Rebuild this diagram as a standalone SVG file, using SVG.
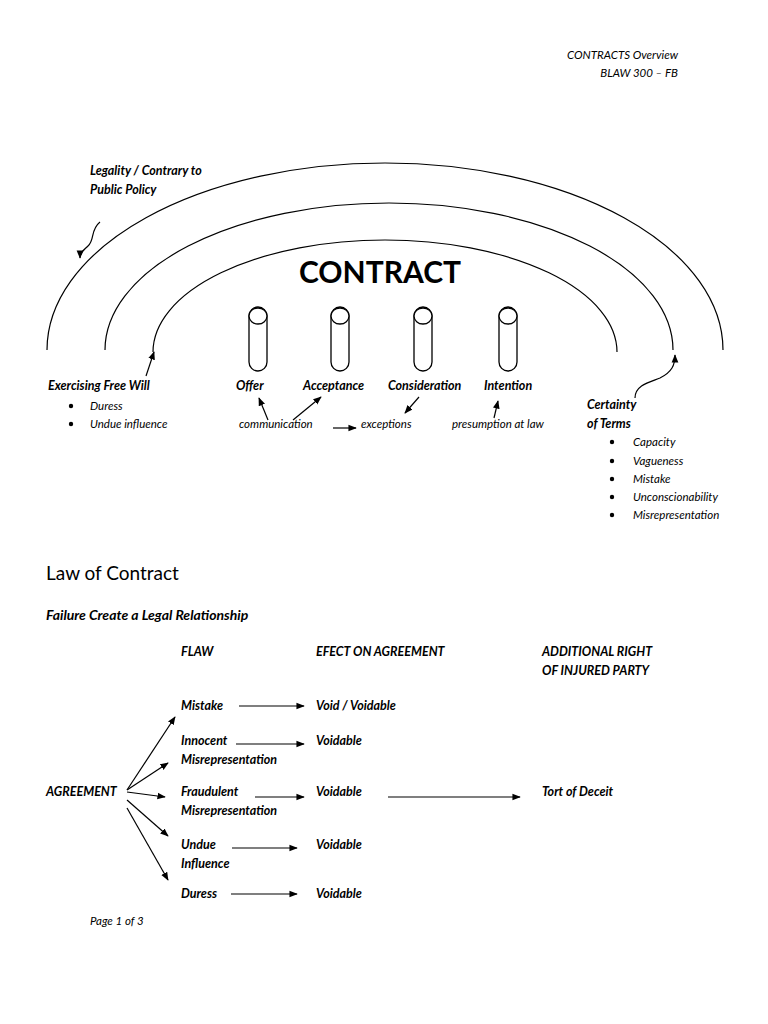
<svg xmlns="http://www.w3.org/2000/svg" width="768" height="1024" viewBox="0 0 768 1024">
<style>
text{font-family:Lato,"Open Sans","Liberation Sans",sans-serif;font-size:12.5px;fill:#000}
.i{font-style:italic}
.b{font-weight:bold;font-style:italic}
.s{font-size:11.5px;font-style:italic}
.ln{fill:none;stroke:#000;stroke-width:1.2}
.cyl{fill:#fff;stroke:#000;stroke-width:1.3}
</style>
<defs><marker id="a" viewBox="0 0 10 10" refX="9" refY="5" markerWidth="7" markerHeight="7" orient="auto"><path d="M0,1 L10,5 L0,9z" fill="#000"/></marker></defs>
<rect width="768" height="1024" fill="#fff"/>
<g id="header"><text x="678" y="59" class="s" text-anchor="end">CONTRACTS Overview</text><text x="678" y="77" class="s" text-anchor="end">BLAW 300 – FB</text></g>
<g id="arcs"><path class="ln" d="M47,350 A338,187 0 0 1 723,350"/><path class="ln" d="M105,350 A284,147 0 0 1 673,350"/><path class="ln" d="M153,352 A232,112 0 0 1 617,352"/></g>
<g id="title"><text x="380" y="283" text-anchor="middle" style="font-size:30px;font-weight:bold;font-style:normal">CONTRACT</text></g>
<g id="pillars">
<g id="p1"><rect class="cyl" x="249" y="307" width="18" height="64" rx="9"/><ellipse class="cyl" cx="258" cy="316" rx="9" ry="8"/></g>
<g id="p2"><rect class="cyl" x="331" y="307" width="18" height="64" rx="9"/><ellipse class="cyl" cx="340" cy="316" rx="9" ry="8"/></g>
<g id="p3"><rect class="cyl" x="414" y="307" width="18" height="64" rx="9"/><ellipse class="cyl" cx="423" cy="316" rx="9" ry="8"/></g>
<g id="p4"><rect class="cyl" x="499" y="307" width="18" height="64" rx="9"/><ellipse class="cyl" cx="508" cy="316" rx="9" ry="8"/></g>
</g>
<g id="labels">
<text x="90" y="175" class="b">Legality / Contrary to</text><text x="90" y="194" class="b">Public Policy</text>
<text x="48" y="390" class="b">Exercising Free Will</text>
<text x="90" y="410" class="s">Duress</text><text x="90" y="428" class="s">Undue influence</text>
<circle cx="71" cy="406" r="2.2"/><circle cx="71" cy="424" r="2.2"/>
<text x="236" y="390" class="b">Offer</text>
<text x="303" y="390" class="b">Acceptance</text>
<text x="388" y="390" class="b">Consideration</text>
<text x="484" y="390" class="b">Intention</text>
<text x="239" y="428" class="s">communication</text>
<text x="361" y="428" class="s">exceptions</text>
<text x="452" y="428" class="s">presumption at law</text>
<text x="587" y="409" class="b">Certainty</text><text x="587" y="428" class="b">of Terms</text>
<g class="s">
<text x="633" y="446" class="s">Capacity</text><text x="633" y="465" class="s">Vagueness</text><text x="633" y="483" class="s">Mistake</text><text x="633" y="501" class="s">Unconscionability</text><text x="633" y="519" class="s">Misrepresentation</text></g>
<circle cx="612" cy="442" r="2.2"/><circle cx="612" cy="461" r="2.2"/><circle cx="612" cy="479" r="2.2"/><circle cx="612" cy="497" r="2.2"/><circle cx="612" cy="515" r="2.2"/>
</g>
<g id="law">
<text x="46" y="580" style="font-size:19px">Law of Contract</text>
<text x="46" y="620" class="b" style="font-size:14px">Failure Create a Legal Relationship</text>
<text x="181" y="656" class="b">FLAW</text>
<text x="316" y="656" class="b">EFECT ON AGREEMENT</text>
<text x="542" y="656" class="b">ADDITIONAL RIGHT</text><text x="542" y="675" class="b">OF INJURED PARTY</text>
<text x="46" y="796" class="b">AGREEMENT</text>
<text x="181" y="710" class="b">Mistake</text>
<text x="181" y="745" class="b">Innocent</text><text x="181" y="764" class="b">Misrepresentation</text>
<text x="181" y="796" class="b">Fraudulent</text><text x="181" y="815" class="b">Misrepresentation</text>
<text x="181" y="849" class="b">Undue</text><text x="181" y="868" class="b">Influence</text>
<text x="181" y="898" class="b">Duress</text>
<text x="316" y="710" class="b">Void / Voidable</text>
<text x="316" y="745" class="b">Voidable</text>
<text x="316" y="796" class="b">Voidable</text>
<text x="316" y="849" class="b">Voidable</text>
<text x="316" y="898" class="b">Voidable</text>
<text x="542" y="796" class="b">Tort of Deceit</text>
<text x="90" y="925" class="s">Page 1 of 3</text>
</g>
<g id="connectors" class="ln" marker-end="url(#a)">
<path d="M100,222 C90,230 95,240 88,246 C84,250 80,252 80,258"/>
<path d="M146,376 L154,352"/>
<path d="M635,398 C635,385 650,382 660,378 C672,372 675,365 675,355"/>
<path d="M268,420 L259,398"/>
<path d="M293,420 L321,397"/>
<path d="M333,428 L356,428"/>
<path d="M419,397 L405,413"/>
<path d="M494,418 L498,401"/>
<path d="M127,790 L175,717"/>
<path d="M127,790 L168,763"/>
<path d="M127,792 L165,797"/>
<path d="M127,800 L168,836"/>
<path d="M127,808 L168,880"/>
<path d="M239,706 L304,706"/>
<path d="M236,744 L304,744"/>
<path d="M255,797 L304,797"/>
<path d="M232,848 L297,848"/>
<path d="M231,894 L297,894"/>
<path d="M388,797 L520,797"/>
</g>
</svg>
